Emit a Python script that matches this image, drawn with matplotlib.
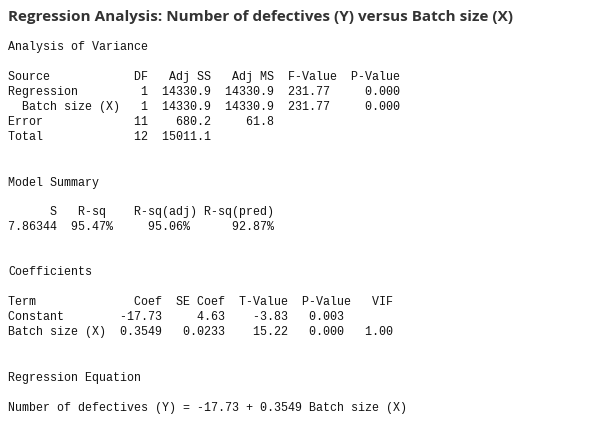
import matplotlib
matplotlib.use("Agg")
import matplotlib.pyplot as plt

title = "Regression Analysis: Number of defectives (Y) versus Batch size (X)"
anova_headers = ["Source", "DF", "Adj SS", "Adj MS", "F-Value", "P-Value"]
sources = ["Regression", "  Batch size (X)", "Error", "Total"]
df = ["1", "1", "11", "12"]
adj_ss = ["14330.9", "14330.9", "680.2", "15011.1"]
adj_ms = ["14330.9", "14330.9", "61.8", ""]
f_val = ["231.77", "231.77", "", ""]
p_val = ["0.000", "0.000", "", ""]
summary_headers = ["S", "R-sq", "R-sq(adj)", "R-sq(pred)"]
summary_values = ["7.86344", "95.47%", "95.06%", "92.87%"]
coef_headers = ["Term", "Coef", "SE Coef", "T-Value", "P-Value", "VIF"]
terms = ["Constant", "Batch size (X)"]
coef = ["-17.73", "0.3549"]
se_coef = ["4.63", "0.0233"]
t_val = ["-3.83", "15.22"]
p_coef = ["0.003", "0.000"]
vif = ["", "1.00"]
equation = "Number of defectives (Y) = -17.73 + 0.3549 Batch size (X)"


def row(first, cells, ends):
    s = first
    for c, e in zip(cells, ends):
        s = s.ljust(e - len(c)) + c if c else s
    return s


lines = []
lines.append((47, "Analysis of Variance"))
lines.append((77, row(anova_headers[0], anova_headers[1:], [20, 29, 38, 47, 56])))
y = 92
for i in range(4):
    lines.append((y, row(sources[i], [df[i], adj_ss[i], adj_ms[i], f_val[i], p_val[i]],
                         [20, 29, 38, 46, 56])))
    y += 15
lines.append((183, "Model Summary"))
lines.append((212, row("", summary_headers, [7, 14, 27, 38])))
lines.append((227, row("", summary_values, [7, 15, 26, 38])))
lines.append((272, "Coefficients"))
lines.append((302, row(coef_headers[0], coef_headers[1:], [22, 31, 40, 49, 55])))
y = 317
for i in range(2):
    lines.append((y, row(terms[i], [coef[i], se_coef[i], t_val[i], p_coef[i], vif[i]],
                         [22, 31, 40, 48, 55])))
    y += 15
lines.append((378, "Regression Equation"))
lines.append((408, equation))

W, H = 608, 427
fig = plt.figure(figsize=(W/100, H/100), dpi=100)
fig.patch.set_facecolor("white")
fig.text(8/W, 1-17/H, title, fontsize=11.0, fontweight="bold", family="Open Sans",
         color="#333333", va="center", ha="left")
for yy, t in lines:
    fig.text(8/W, 1-yy/H, t, fontsize=8.4, family="Liberation Mono", color="#111111",
             va="center", ha="left")
fig.savefig("out.png", dpi=100)
